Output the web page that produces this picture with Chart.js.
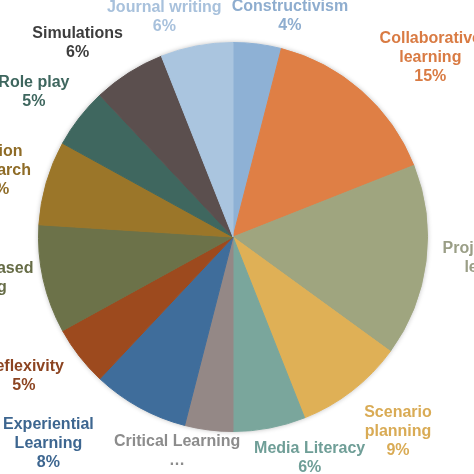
<!DOCTYPE html>
<html>
<head>
<meta charset="utf-8">
<script src="https://cdn.jsdelivr.net/npm/chart.js@4"></script>
<style>
  html, body { margin: 0; padding: 0; background: #fff; }
  #wrap { width: 474px; height: 474px; position: relative; }
</style>
</head>
<body>
<div id="wrap"><canvas id="pie"></canvas></div>
<script>
// categories (label lines) and shares in percent, clockwise from the top
const labels = [
  ['Constructivism', '4%'],
  ['Collaborative', 'learning', '15%'],
  ['Project-based', 'learning', '16%'],
  ['Scenario', 'planning', '9%'],
  ['Media Literacy', '6%'],
  ['Critical Learning', '…'],
  ['Experiential', 'Learning', '8%'],
  ['Reflexivity', '5%'],
  ['Problem-based', 'learning', '9%'],
  ['Action', 'research', '7%'],
  ['Role play', '5%'],
  ['Simulations', '6%'],
  ['Journal writing', '6%']
];
const shares = [4, 15, 16, 9, 6, 4, 8, 5, 9, 7, 5, 6, 6];

// slice and label colours
const sliceColors = ['#8eb1d5', '#df7f45', '#9fa57f', '#dfb056', '#7aa69c', '#948886', '#3f6d9b',
                     '#9d4a1e', '#6c7249', '#9b7629', '#3f675f', '#5b4f4e', '#aac5df'];
const textColors = ['#8eadcf', '#d97b43', '#9a9e86', '#d9ab55', '#6f9e97', '#8c8c8c', '#3d6690',
                    '#8c4421', '#666c46', '#8f6c27', '#3e665e', '#3d3d3d', '#a8c1dc'];
// nudges of each label block away from its spot on the slice's mid-angle
const labelNudge = [[25, 32], [29, 11], [10, -1], [9, -7], [29, -29], [-24, -38], [-62, -16],
                    [-8, -17], [-9, -5], [9, 5], [2, 11], [-19, 21], [-21, 30]];

const pieShadow = {
  id: 'pieShadow',
  beforeDatasetsDraw(chart) {
    const arc = chart.getDatasetMeta(0).data[0];
    const ctx = chart.ctx;
    ctx.save();
    ctx.shadowColor = 'rgba(0,0,0,0.28)';
    ctx.shadowBlur = 5;
    ctx.fillStyle = '#ffffff';
    ctx.beginPath();
    ctx.arc(arc.x, arc.y, arc.outerRadius, 0, Math.PI * 2);
    ctx.fill();
    ctx.restore();
  }
};

const sliceLabels = {
  id: 'sliceLabels',
  afterDatasetsDraw(chart) {
    const ctx = chart.ctx;
    ctx.save();
    ctx.font = 'bold 16px "Liberation Sans", Arial, sans-serif';
    ctx.textAlign = 'center';
    ctx.textBaseline = 'middle';
    chart.getDatasetMeta(0).data.forEach((arc, i) => {
      const mid = (arc.startAngle + arc.endAngle) / 2;
      const d = arc.outerRadius + 60;
      const cx = arc.x + Math.cos(mid) * d + labelNudge[i][0];
      const cy = arc.y + Math.sin(mid) * d + labelNudge[i][1];
      const lines = labels[i];
      ctx.fillStyle = textColors[i];
      lines.forEach((t, k) => {
        ctx.fillText(t, cx, cy + (k - (lines.length - 1) / 2) * 19);
      });
    });
    ctx.restore();
  }
};

new Chart(document.getElementById('pie'), {
  type: 'pie',
  data: {
    labels: labels.map(l => l.slice(0, -1).join(' ')),
    datasets: [{
      data: shares,
      backgroundColor: sliceColors,
      borderColor: sliceColors,
      borderWidth: 1
    }]
  },
  options: {
    responsive: true,
    maintainAspectRatio: false,
    animation: false,
    layout: { padding: { left: 38, right: 46, top: 42, bottom: 42 } },
    plugins: {
      legend: { display: false },
      tooltip: { enabled: false }
    }
  },
  plugins: [pieShadow, sliceLabels]
});
</script>
</body>
</html>
